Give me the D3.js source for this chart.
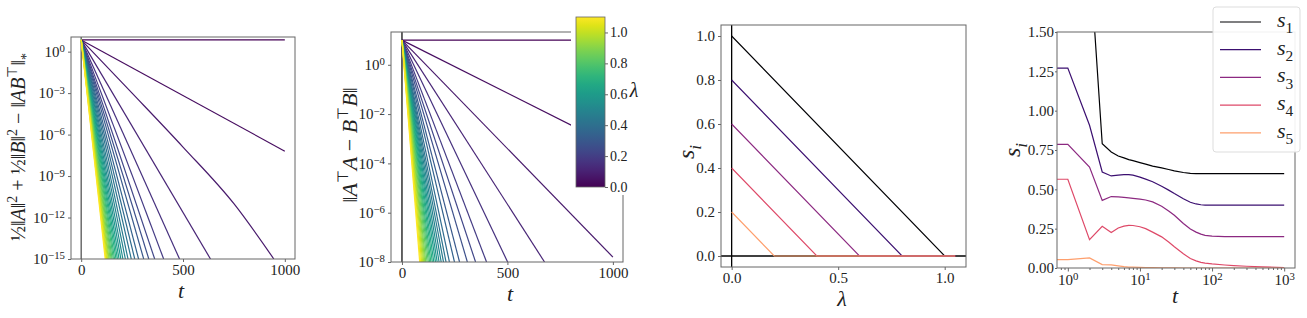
<!DOCTYPE html>
<html><head><meta charset="utf-8">
<script src="https://cdn.jsdelivr.net/npm/d3@7"></script>
<style>
body{margin:0;background:#fff}
</style></head><body>
<script>
// values
const lambdas = [0,0.038,0.076,0.114,0.152,0.19,0.228,0.266,0.303,0.341,0.379,0.417,0.455,0.493,0.531,
                 0.569,0.607,0.645,0.683,0.721,0.759,0.797,0.834,0.872,0.91,0.948,0.986,1.024,1.062,1.1];
const lossStart = [0,0.85];            // [t, log10 value]
const lossEnds = [[1000,0.85],[1000,-7.2],[946,-15],[635,-15],[483,-15],[405,-15],[361,-15],[332,-15],
  [307,-15],[282,-15],[263,-15],[246,-15],[230,-15],[217,-15],[205,-15],[195,-15],[186,-15],[178,-15],
  [171,-15],[164,-15],[158,-15],[152,-15],[147,-15],[142,-15],[137,-15],[133,-15],[129,-15],[125,-15],
  [121,-15],[118,-15]];
const lossBend = {2:[[250,-3.0],[500,-6.9],[750,-11.0]]};
const normStart = [0,1.0];
const normEnds = [[1000,1.0],[1000,-3.3],[1000,-7.8],[676,-8],[501,-8],[401,-8],[349,-8],[310,-8],
  [273,-8],[249,-8],[225,-8],[209,-8],[197,-8],[186,-8],[176,-8],[167,-8],[159,-8],[151,-8],[144,-8],
  [137,-8],[131,-8],[125,-8],[119,-8],[113,-8],[108,-8],[103,-8],[98,-8],[93,-8],[88,-8],[84,-8]];

const shrink = [
  [[0,1.0],[1.0,0],[1.05,0]],
  [[0,0.8],[0.8,0],[1.05,0]],
  [[0,0.6],[0.6,0],[1.05,0]],
  [[0,0.4],[0.4,0],[1.05,0]],
  [[0,0.2],[0.2,0],[1.05,0]]
];

const sT = [0,1,2,3,4,5,6,7,8,10,12,15,20,25,30,40,50,60,70,80,100,150,200,300,500,1000];
const s1 = [2,2,2,0.79,0.737,0.712,0.70,0.689,0.682,0.67,0.66,0.648,0.636,0.626,0.617,0.607,0.602,0.6,0.6,0.6,0.6,0.6,0.6,0.6,0.6,0.6];
const s2 = [1.271,1.271,0.907,0.61,0.585,0.59,0.593,0.594,0.59,0.578,0.565,0.548,0.52,0.495,0.473,0.44,0.418,0.407,0.402,0.4,0.4,0.4,0.4,0.4,0.4,0.4];
const s3 = [0.786,0.786,0.642,0.43,0.454,0.452,0.449,0.446,0.443,0.438,0.432,0.42,0.393,0.362,0.335,0.283,0.248,0.228,0.215,0.207,0.202,0.2,0.2,0.2,0.2,0.2];
const s4 = [0.564,0.564,0.18,0.265,0.225,0.254,0.266,0.271,0.27,0.262,0.25,0.228,0.198,0.165,0.135,0.09,0.06,0.045,0.036,0.031,0.026,0.019,0.015,0.011,0.007,0.003];
const s5 = [0.053,0.053,0.064,0.022,0.02,0.014,0.009,0.006,0.005,0.004,0.003,0.002,0.001,0.001,0.001,0,0,0,0,0,0,0,0,0,0,0];
const sNames = ["1","2","3","4","5"];

const W=1307,H=318;
const svg=d3.select("body").append("svg").attr("width",W).attr("height",H);
const spine="#666";
const TICK=15;

function rich(t,parts,fs){
  let shift=0;
  parts.forEach(p=>{
    const [s,k]=p;
    const target = k.startsWith("sup")? -0.42*fs : k.startsWith("sub")? 0.28*fs : 0;
    const ts=t.append("tspan").attr("dy",target-shift).text(s);
    if(k!=="n"&&k!=="i") ts.attr("font-size",0.7*fs);
    if(k==="i"||k.endsWith("i")) ts.attr("font-style","italic");
    shift=target;
  });
}
function label(x,y,fs,rot){
  const t=svg.append("text").attr("text-anchor","middle").attr("font-size",fs).attr("fill","#222");
  if(rot) t.attr("transform",`translate(${x},${y}) rotate(-90)`);
  else t.attr("x",x).attr("y",y);
  return t;
}
function clip(id,x0,y0,x1,y1){
  svg.append("clipPath").attr("id",id).append("rect").attr("x",x0).attr("y",y0).attr("width",x1-x0).attr("height",y1-y0);
}
function styleAxis(g,fs){
  g.attr("font-size",fs||TICK).attr("font-family",null);
  g.select(".domain").remove();
  g.selectAll(".tick line").attr("stroke",spine);
  g.selectAll("text").attr("fill","#222").attr("font-size",fs||TICK);
}
function pow10(g){
  g.selectAll(".tick text").each(function(d){
    const e=Math.round(Math.log10(d));
    const t=d3.select(this); t.text("10");
    t.append("tspan").attr("dy","-0.45em").attr("font-size","0.72em").text(e<0?"\u2212"+(-e):e);
  });
}

// ---------- panel 1 ----------
{
  const L=71,R=295,T=37,B=259;
  const x=d3.scaleLinear().domain([-50,1050]).range([L,R]);
  const y=d3.scaleLog().domain([1e-15,Math.pow(10,1.06)]).range([B,T]);
  const col=d3.scaleSequential(d3.interpolateViridis).domain([0,1.1]);
  clip("c1",L,T,R,B);
  const g=svg.append("g").attr("clip-path","url(#c1)");
  g.append("line").attr("x1",x(0)).attr("x2",x(0)).attr("y1",T).attr("y2",B).attr("stroke","#555").attr("stroke-width",1.3);
  const line=d3.line().x(d=>x(d[0])).y(d=>y(Math.pow(10,d[1]))).curve(d3.curveMonotoneX);
  lossEnds.forEach((e,k)=>{
    const pts=[lossStart].concat(lossBend[k]||[],[e]);
    g.append("path").attr("d",line(pts)).attr("fill","none").attr("stroke",col(lambdas[k])).attr("stroke-width",1.2);
  });
  svg.append("rect").attr("x",L).attr("y",T).attr("width",R-L).attr("height",B-T).attr("fill","none").attr("stroke",spine);
  const ax=svg.append("g").attr("transform",`translate(0,${B})`).call(d3.axisBottom(x).tickValues([0,500,1000]).tickFormat(d3.format("d")).tickSize(3).tickPadding(2));
  styleAxis(ax);
  const ay=svg.append("g").attr("transform",`translate(${L},0)`).call(d3.axisLeft(y).tickValues([1,1e-3,1e-6,1e-9,1e-12,1e-15]).tickSize(3).tickPadding(3));
  styleAxis(ay); pow10(ay);
  label(181,298,22).attr("font-style","italic").text("t");
  const yl=label(25,147,20,true);
  rich(yl,[["\u00bd\u2016","n"],["A","i"],["\u2016","n"],["2","sup"],[" + \u00bd\u2016","n"],["B","i"],["\u2016","n"],["2","sup"],
    [" \u2212 \u2016","n"],["AB","i"],["\u22a4","sup"],["\u2016","n"],["*","sub"]],20);
}

// ---------- panel 2 ----------
{
  const L=391,R=623,T=32,B=262;
  const x=d3.scaleLinear().domain([-52,1048]).range([L,R]);
  const y=d3.scaleLog().domain([1e-8,Math.pow(10,1.33)]).range([B,T]);
  const col=d3.scaleSequential(d3.interpolateViridis).domain([0,1.1]);
  clip("c2",L,T,R,B);
  const g=svg.append("g").attr("clip-path","url(#c2)");
  g.append("line").attr("x1",x(0)).attr("x2",x(0)).attr("y1",T).attr("y2",B).attr("stroke","#111").attr("stroke-width",1.3);
  const line=d3.line().x(d=>x(d[0])).y(d=>y(Math.pow(10,d[1])));
  normEnds.forEach((e,k)=>{
    g.append("path").attr("d",line([normStart,e])).attr("fill","none").attr("stroke",col(lambdas[k])).attr("stroke-width",1.2);
  });
  svg.append("rect").attr("x",L).attr("y",T).attr("width",R-L).attr("height",B-T).attr("fill","none").attr("stroke",spine);
  const ax=svg.append("g").attr("transform",`translate(0,${B})`).call(d3.axisBottom(x).tickValues([0,500,1000]).tickFormat(d3.format("d")).tickSize(3).tickPadding(2));
  styleAxis(ax);
  const ay=svg.append("g").attr("transform",`translate(${L},0)`).call(d3.axisLeft(y).tickValues([1,1e-2,1e-4,1e-6,1e-8]).tickSize(3).tickPadding(3));
  styleAxis(ay); pow10(ay);
  label(510,301,22).attr("font-style","italic").text("t");
  const yl=label(357,145,22,true);
  rich(yl,[["\u2016","n"],["A","i"],["\u22a4","sup"],["A","i"],[" \u2212 ","n"],["B","i"],["\u22a4","sup"],["B","i"],["\u2016","n"]],22);

  // colorbar, sits on a white panel over the axes corner
  svg.append("rect").attr("x",571).attr("y",8).attr("width",70).attr("height",187).attr("fill","#fff");
  const cb={L:576,R:605,T:17,B:187};
  const cy=d3.scaleLinear().domain([0,1.1]).range([cb.B,cb.T]);
  const grad=svg.append("defs").append("linearGradient").attr("id","vir").attr("x1",0).attr("y1",1).attr("x2",0).attr("y2",0);
  d3.range(0,1.0001,0.05).forEach(s=>grad.append("stop").attr("offset",s).attr("stop-color",d3.interpolateViridis(s)));
  svg.append("rect").attr("x",cb.L).attr("y",cb.T).attr("width",cb.R-cb.L).attr("height",cb.B-cb.T).attr("fill","url(#vir)").attr("stroke",spine).attr("stroke-width",0.8);
  const ac=svg.append("g").attr("transform",`translate(${cb.R},0)`).call(d3.axisRight(cy).tickValues([0,0.2,0.4,0.6,0.8,1.0]).tickFormat(d3.format(".1f")).tickSize(3).tickPadding(2));
  styleAxis(ac,14);
  label(634,97,20).attr("font-style","italic").text("\u03bb");
}

// ---------- panel 3 ----------
const magma=i=>d3.interpolateMagma(i/5);
{
  const L=721,R=966,T=25,B=267;
  const x=d3.scaleLinear().domain([-0.05,1.1]).range([L,R]);
  const y=d3.scaleLinear().domain([-0.05,1.05]).range([B,T]);
  clip("c3",L,T,R,B);
  const g=svg.append("g").attr("clip-path","url(#c3)");
  g.append("line").attr("x1",x(0)).attr("x2",x(0)).attr("y1",T).attr("y2",B).attr("stroke","#000").attr("stroke-width",1.3);
  g.append("line").attr("x1",L).attr("x2",R).attr("y1",y(0)).attr("y2",y(0)).attr("stroke","#000").attr("stroke-width",1.3);
  const line=d3.line().x(d=>x(d[0])).y(d=>y(d[1]));
  shrink.forEach((pts,i)=>g.append("path").attr("d",line(pts)).attr("fill","none").attr("stroke",magma(i)).attr("stroke-width",1.1));
  svg.append("rect").attr("x",L).attr("y",T).attr("width",R-L).attr("height",B-T).attr("fill","none").attr("stroke",spine);
  const ax=svg.append("g").attr("transform",`translate(0,${B})`).call(d3.axisBottom(x).tickValues([0,0.5,1.0]).tickFormat(d3.format(".1f")).tickSize(3).tickPadding(2));
  styleAxis(ax);
  const ay=svg.append("g").attr("transform",`translate(${L},0)`).call(d3.axisLeft(y).tickValues([0,0.2,0.4,0.6,0.8,1.0]).tickFormat(d3.format(".1f")).tickSize(3).tickPadding(3));
  styleAxis(ay);
  label(842,306,22).attr("font-style","italic").text("\u03bb");
  rich(label(694,152,24,true),[["s","i"],["i","subi"]],24);
}

// ---------- panel 4 ----------
{
  const L=1057,R=1295,T=32,B=268;
  const x=d3.scaleLog().domain([Math.pow(10,-0.15),Math.pow(10,3.15)]).range([L,R]);
  const y=d3.scaleLinear().domain([0,1.5]).range([B,T]);
  clip("c4",L,T,R,B);
  const g=svg.append("g").attr("clip-path","url(#c4)");
  // t = 0 is clipped to the far left, like a log axis does
  const line=d3.line().x(d=>d[0]>0?x(d[0]):L-500).y(d=>y(d[1]));
  const series=[s1,s2,s3,s4,s5];
  series.forEach((s,i)=>g.append("path").attr("d",line(sT.map((t,j)=>[t,s[j]]))).attr("fill","none").attr("stroke",magma(i)).attr("stroke-width",1.2));
  svg.append("rect").attr("x",L).attr("y",T).attr("width",R-L).attr("height",B-T).attr("fill","none").attr("stroke",spine);
  const minor=[];
  [0.1,1,10,100,1000].forEach(b=>d3.range(2,10).forEach(m=>{const v=b*m; if(v>=x.domain()[0]&&v<=x.domain()[1]) minor.push(v);}));
  const am=svg.append("g").attr("transform",`translate(0,${B})`).call(d3.axisBottom(x).tickValues(minor).tickFormat("").tickSize(2));
  styleAxis(am);
  const ax=svg.append("g").attr("transform",`translate(0,${B})`).call(d3.axisBottom(x).tickValues([1,10,100,1000]).tickSize(3.5).tickPadding(3));
  styleAxis(ax); pow10(ax);
  const ay=svg.append("g").attr("transform",`translate(${L},0)`).call(d3.axisLeft(y).tickValues([0,0.25,0.5,0.75,1.0,1.25,1.5]).tickFormat(d3.format(".2f")).tickSize(2).tickPadding(1));
  styleAxis(ay);
  label(1175,303,22).attr("font-style","italic").text("t");
  rich(label(1020,150,24,true),[["s","i"],["i","subi"]],24);

  // legend
  const lg=svg.append("g");
  lg.append("rect").attr("x",1213).attr("y",7).attr("width",87).attr("height",145).attr("rx",3)
    .attr("fill","#fff").attr("fill-opacity",0.9).attr("stroke","#ddd");
  sNames.forEach((n,i)=>{
    const yy=22+i*27.7;
    lg.append("line").attr("x1",1220).attr("x2",1261).attr("y1",yy).attr("y2",yy).attr("stroke",magma(i)).attr("stroke-width",1.2);
    const t=lg.append("text").attr("x",1277).attr("y",yy+5).attr("font-size",22).attr("fill","#222");
    rich(t,[["s","i"],[n,"sub"]],22);
  });
}

// move tick labels out of their translated groups, so they sit at plain x,y
const tickLayer=svg.append("g");
svg.selectAll(".tick text").each(function(){
  const m=this.getCTM();
  const el=d3.select(this);
  const x0=+el.attr("x")||0, y0=+el.attr("y")||0;
  const anchor=getComputedStyle(this).textAnchor || this.parentNode.parentNode.getAttribute("text-anchor");
  el.attr("x",x0+m.e).attr("y",y0+m.f).attr("text-anchor",this.parentNode.parentNode.getAttribute("text-anchor"));
  tickLayer.node().appendChild(this);
});
// serif everywhere: put the family on every text node itself
svg.selectAll("g").attr("font-family",null);
svg.selectAll("text").attr("font-family","Liberation Serif");
svg.selectAll("tspan").attr("font-family","Liberation Serif");
</script>
</body></html>
